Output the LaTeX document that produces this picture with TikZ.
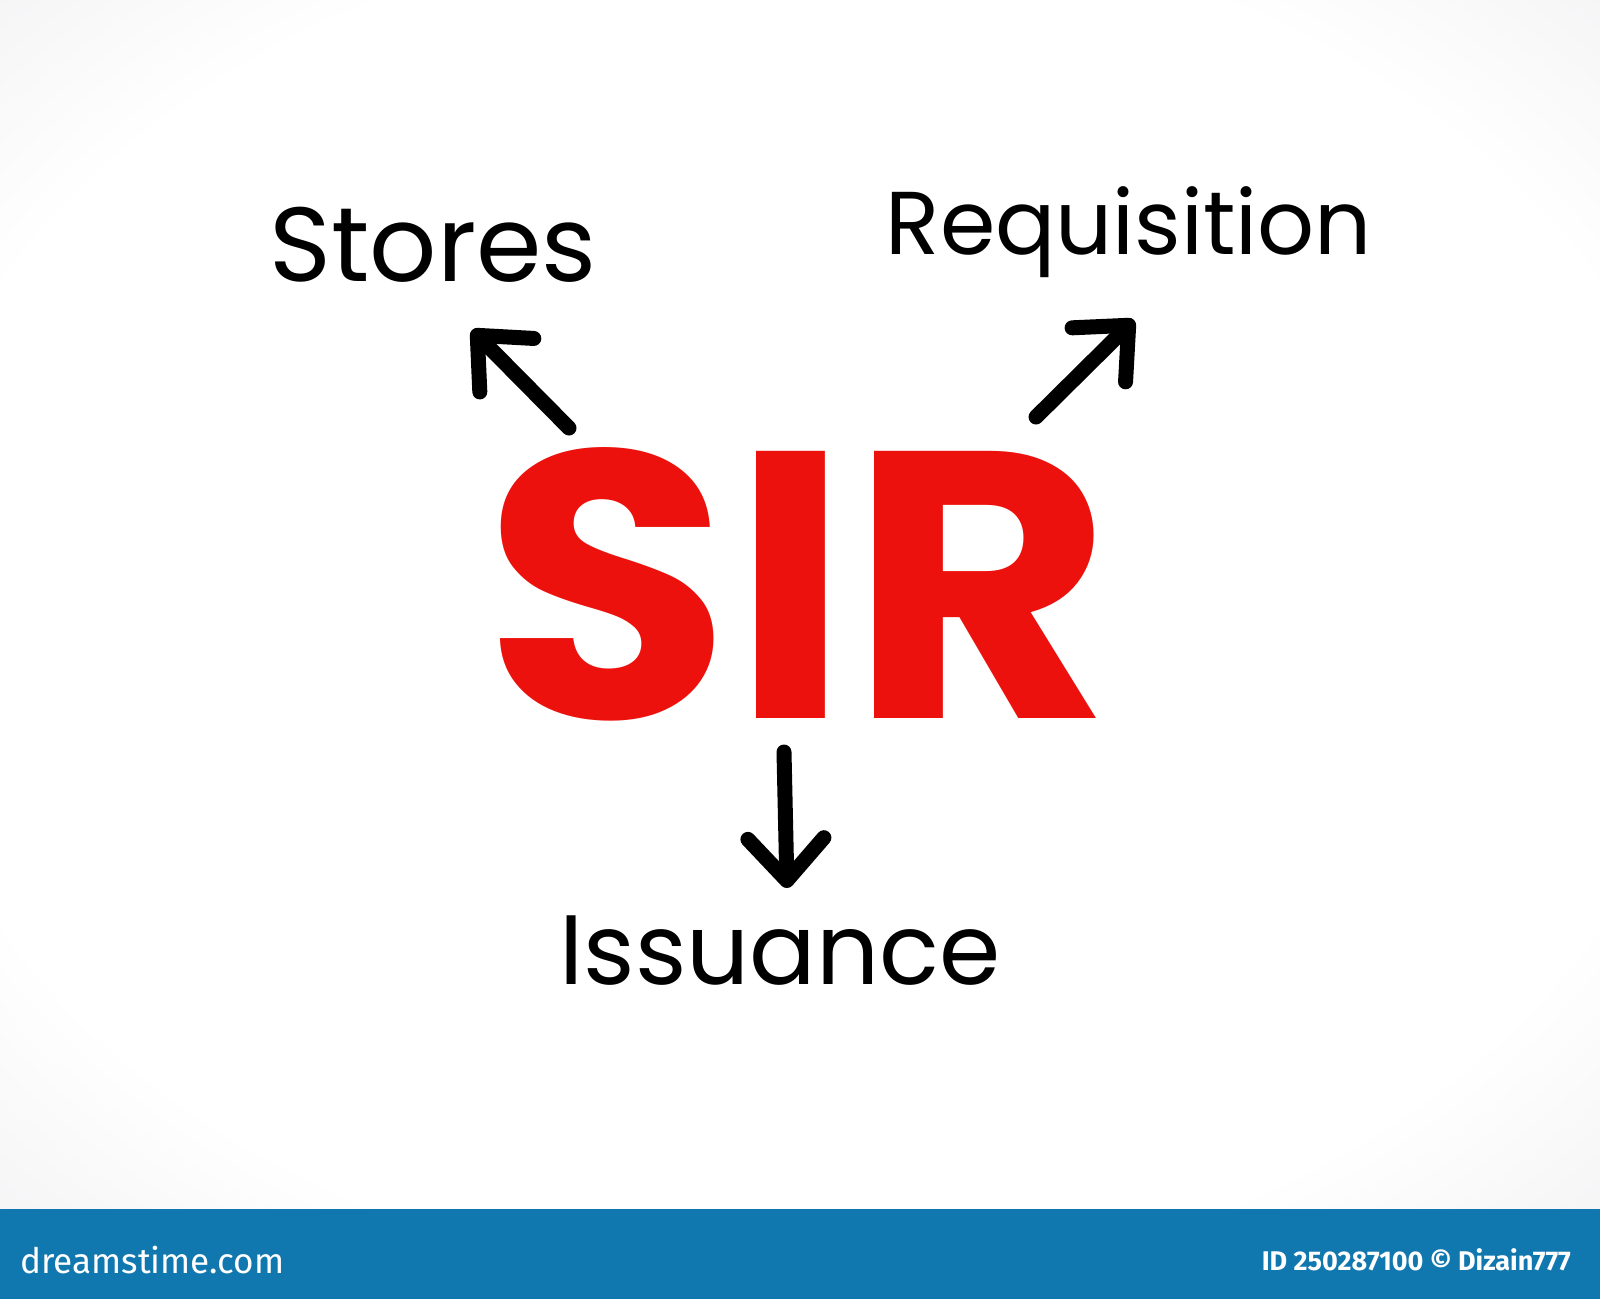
\documentclass[tikz,border=0pt]{standalone}
\usepackage{fontspec}
\setmainfont{Poppins}
\newfontfamily\idfont{Fira Sans}
\usetikzlibrary{arrows.meta}
\definecolor{sirred}{HTML}{EC110C}
\definecolor{barblue}{HTML}{1177AF}
\definecolor{vig}{HTML}{E2E2E6}
\pgfdeclareradialshading{vignette}{\pgfpoint{0bp}{0bp}}{color(0bp)=(white); color(28bp)=(white); color(50bp)=(vig); color(100bp)=(vig)}
\begin{document}
\begin{tikzpicture}[x=1pt,y=-1pt,
  wordlbl/.style={inner sep=0pt, text=black},
  barlbl/.style={inner sep=0pt, text=white},
  arr/.style={line width=15pt, line cap=round, -{Straight Barb[length=42pt,width=76pt,round]}}]
\useasboundingbox (0,0) rectangle (1600,1299);
\shade[shading=vignette] (0,0) rectangle (1600,1209);
\fill[barblue] (0,1209) rectangle (1600,1299);
% words
\node[wordlbl] (sir) at (798,584) {\color{sirred}\resizebox{627pt}{270pt}{\bfseries SIR}};
\node[wordlbl] (stores) at (433,245) {\resizebox{327pt}{!}{Stores}};
\node[wordlbl] (req) at (1129,232) {\resizebox{486pt}{!}{Requisition}};
\node[wordlbl] (iss) at (780,951) {\resizebox{441pt}{!}{Issuance}};
% arrows
\coordinate (s0) at (569,428); \coordinate (s1) at (472,330);
\coordinate (r0) at (1036,417); \coordinate (r1) at (1134,320);
\coordinate (i0) at (784,752); \coordinate (i1) at (787,888);
\draw[arr] (s0) -- (s1);
\draw[arr] (r0) -- (r1);
\draw[arr] (i0) -- (i1);
% bar texts
\node[barlbl, anchor=west] (dt) at (20,1260) {\resizebox{264pt}{!}{\idfont dreamstime.com}};
\node[barlbl, anchor=east] (id) at (1571,1260) {\resizebox{309pt}{!}{\idfont\bfseries ID 250287100 © Dizain777}};
\end{tikzpicture}
\end{document}
